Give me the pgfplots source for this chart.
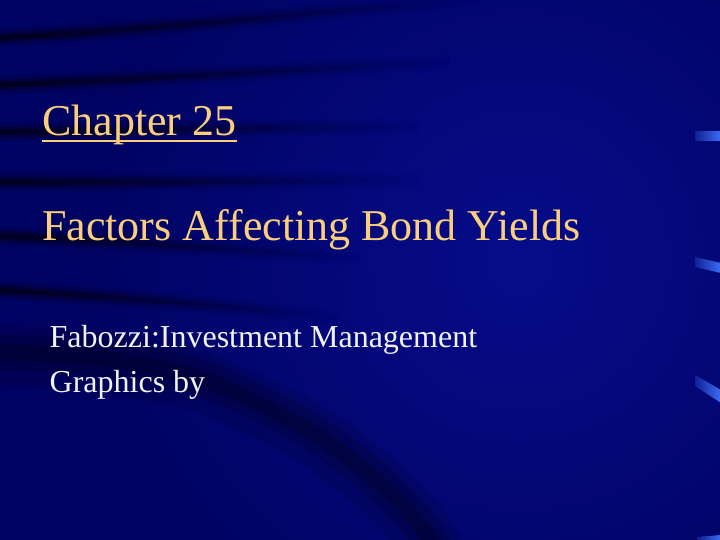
\documentclass[border=0pt]{standalone}
\usepackage{pgfplots}
\pgfplotsset{compat=1.18}
\usetikzlibrary{fadings}
\usepackage{fontspec}
\setmainfont{Liberation Serif}
\definecolor{bgdark}{RGB}{0,2,98}
\definecolor{bgmid}{RGB}{6,12,138}
\definecolor{titlecol}{RGB}{250,206,125}
\definecolor{subcol}{RGB}{242,242,250}
\definecolor{tabblue}{RGB}{60,110,245}
\tikzfading[name=bandfade, left color=pgftransparent!0, middle color=pgftransparent!25, right color=pgftransparent!100]
\tikzfading[name=tabfade, left color=pgftransparent!75, right color=pgftransparent!0]
\newcommand{\band}[3]{%
  \addplot[no markers, smooth, draw=black, line width=2.2*#1, opacity=0.16*#3, path fading=bandfade, forget plot] coordinates {#2};
  \addplot[no markers, smooth, draw=black, line width=1.3*#1, opacity=0.28*#3, path fading=bandfade, forget plot] coordinates {#2};
  \addplot[no markers, smooth, draw=black, line width=0.6*#1, opacity=0.42*#3, path fading=bandfade, forget plot] coordinates {#2};
}
\begin{document}
\begin{tikzpicture}
\fill[bgdark] (0,0) rectangle (720bp,540bp);
\begin{scope}
\clip (0,0) rectangle (720bp,540bp);
\shade[inner color=bgmid, outer color=bgdark] (520bp,280bp) circle (430bp);
\end{scope}
\begin{axis}[
  at={(0,0)}, anchor=south west,
  width=720bp, height=540bp, scale only axis,
  xmin=0, xmax=720, ymin=0, ymax=540,
  y dir=reverse, hide axis, clip=true,
]
% dark streaks
\band{8bp}{(0,38) (120,30) (240,20) (360,9) (480,0)}{1}
\band{8bp}{(0,85) (150,78) (300,70) (450,62)}{1}
\band{8bp}{(0,132) (150,130) (300,128) (420,126)}{1}
\band{8bp}{(0,182) (150,182) (300,181) (420,180)}{1}
\band{8bp}{(0,236) (120,242) (240,250) (360,258)}{1}
\band{8bp}{(0,290) (120,298) (240,308) (340,318)}{1}
% broad swoosh
\addplot[no markers, smooth, draw=black, line width=60bp, opacity=0.12, forget plot] coordinates {(-10,355) (100,362) (200,382) (300,428) (370,478) (420,528) (440,565)};
\addplot[no markers, smooth, draw=black, line width=36bp, opacity=0.16, forget plot] coordinates {(-10,352) (100,358) (200,378) (300,425) (370,475) (420,525) (440,560)};
\addplot[no markers, smooth, draw=black, line width=16bp, opacity=0.2, forget plot] coordinates {(-10,352) (100,358) (200,378) (300,425) (370,475) (420,525) (440,560)};
% blue tabs on right edge
\addplot[fill=tabblue, draw=none, path fading=tabfade, forget plot] coordinates {(695,131) (721,131) (721,141) (695,141)} -- cycle;
\addplot[fill=tabblue, draw=none, path fading=tabfade, forget plot] coordinates {(695,257) (721,263) (721,273) (695,267)} -- cycle;
\addplot[fill=tabblue, draw=none, path fading=tabfade, forget plot] coordinates {(695,375) (721,390) (721,403) (695,386)} -- cycle;
\addplot[fill=tabblue, draw=none, path fading=tabfade, forget plot] coordinates {(697,537) (721,535) (721,541) (697,541)} -- cycle;
% texts
\node[anchor=base west, inner sep=0pt, text=titlecol, font=\fontsize{44bp}{52bp}\selectfont] (ch) at (axis cs:42,135) {Chapter 25};
\draw[titlecol, line width=2bp] ([yshift=-5.5bp]ch.base west) -- ([yshift=-5.5bp]ch.base east);
\node[anchor=base west, inner sep=0pt, text=titlecol, font=\fontsize{44bp}{52bp}\selectfont] at (axis cs:42,240) {Factors Affecting Bond Yields};
\node[anchor=base west, inner sep=0pt, text=subcol, font=\fontsize{32bp}{38bp}\selectfont] at (axis cs:49.5,347) {Fabozzi:Investment Management};
\node[anchor=base west, inner sep=0pt, text=subcol, font=\fontsize{32bp}{38bp}\selectfont] at (axis cs:49.5,392) {Graphics by};
\end{axis}
\pgfresetboundingbox
\path[use as bounding box] (0,0) rectangle (720bp,540bp);
\end{tikzpicture}
\end{document}
